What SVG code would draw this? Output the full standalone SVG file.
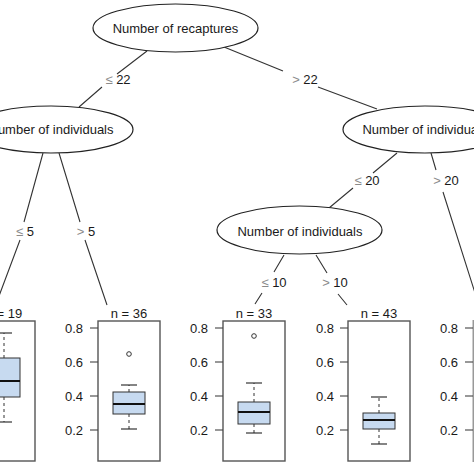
<svg xmlns="http://www.w3.org/2000/svg" width="474" height="474" viewBox="0 0 474 474">
<style>
text{font-family:"Liberation Sans",Arial,sans-serif;font-size:13px;fill:#1a1a1a}
.node ellipse{fill:#fff;stroke:#222;stroke-width:1.2}
.lab{text-anchor:middle}
.sym{fill:#8a8a8a}
.edge{stroke:#333;stroke-width:1.1;fill:none}
.frame{fill:#fff;stroke:#555;stroke-width:1.4}
.tick{stroke:#444;stroke-width:1.1}
.tl{text-anchor:end}
.box{fill:#c7daf0;stroke:#333;stroke-width:1}
.med{stroke:#111;stroke-width:2}
.wh{stroke:#333;stroke-width:1;stroke-dasharray:3,3}
.cap{stroke:#222;stroke-width:1.1}
.out{fill:none;stroke:#333;stroke-width:1}
</style>
<rect width="474" height="474" fill="#fff"/>
<g id="connectors">
<path class="edge" d="M147,51 L117,74 M102,87 L79,107"/>
<path class="edge" d="M224,47 L283,71 M318,87 L377,109"/>
<path class="edge" d="M43,153 L24,222 M20,240 L-1,296"/>
<path class="edge" d="M59,153 L80,222 M85,240 L107,305"/>
<path class="edge" d="M397,153 L373,173 M353,188 L329,208"/>
<path class="edge" d="M431,153 L436,170 M443,192 L476,296"/>
<path class="edge" d="M284,255 L274,272 M262,293 L255,304"/>
<path class="edge" d="M316,255 L327,273 M338,294 L347,305"/>
<text class="lab" x="118" y="84"><tspan class="sym">≤</tspan> 22</text>
<text class="lab" x="305" y="84"><tspan class="sym">&gt;</tspan> 22</text>
<text class="lab" x="25" y="236"><tspan class="sym">≤</tspan> 5</text>
<text class="lab" x="86" y="236"><tspan class="sym">&gt;</tspan> 5</text>
<text class="lab" x="367" y="185"><tspan class="sym">≤</tspan> 20</text>
<text class="lab" x="446" y="185"><tspan class="sym">&gt;</tspan> 20</text>
<text class="lab" x="274" y="287"><tspan class="sym">≤</tspan> 10</text>
<text class="lab" x="335" y="287"><tspan class="sym">&gt;</tspan> 10</text>
</g>
<g id="node1" class="node">
<ellipse cx="175.5" cy="28" rx="82.5" ry="24"/>
<text class="lab" x="175.5" y="33">Number of recaptures</text>
</g>
<g id="node2" class="node">
<ellipse cx="51" cy="129.5" rx="82" ry="23.5"/>
<text class="lab" x="51" y="134">Number of individuals</text>
</g>
<g id="node5" class="node">
<ellipse cx="425" cy="129.5" rx="82" ry="23.5"/>
<text class="lab" x="425" y="134">Number of individuals</text>
</g>
<g id="node6" class="node">
<ellipse cx="299.5" cy="230" rx="82.5" ry="24"/>
<text class="lab" x="300" y="236">Number of individuals</text>
</g>
<g id="node3">
<text class="lab" x="4" y="318">n = 19</text>
<rect class="frame" x="-27" y="321" width="62" height="140"/>
<line class="wh" x1="4" y1="358" x2="4" y2="333"/>
<line class="wh" x1="4" y1="397" x2="4" y2="422"/>
<line class="cap" x1="-4" y1="333" x2="12" y2="333"/>
<line class="cap" x1="-4" y1="422" x2="12" y2="422"/>
<rect class="box" x="-12" y="358" width="32" height="39"/>
<line class="med" x1="-12" y1="381" x2="20" y2="381"/>
</g>
<g id="node4">
<text class="lab" x="129" y="318">n = 36</text>
<rect class="frame" x="98" y="321" width="62" height="140"/>
<g class="tick"><line x1="90" y1="328" x2="98" y2="328"/><line x1="90" y1="362" x2="98" y2="362"/><line x1="90" y1="396" x2="98" y2="396"/><line x1="90" y1="430" x2="98" y2="430"/></g>
<text class="tl" x="83" y="332.5">0.8</text><text class="tl" x="83" y="366.5">0.6</text><text class="tl" x="83" y="400.5">0.4</text><text class="tl" x="83" y="434.5">0.2</text>
<line class="wh" x1="129" y1="392" x2="129" y2="385"/>
<line class="wh" x1="129" y1="414" x2="129" y2="429"/>
<line class="cap" x1="121" y1="385" x2="137" y2="385"/>
<line class="cap" x1="121" y1="429" x2="137" y2="429"/>
<rect class="box" x="113" y="392" width="32" height="22"/>
<line class="med" x1="113" y1="404" x2="145" y2="404"/>
<circle class="out" cx="129" cy="354" r="2.3"/>
</g>
<g id="node7">
<text class="lab" x="254" y="318">n = 33</text>
<rect class="frame" x="223" y="321" width="62" height="140"/>
<g class="tick"><line x1="215" y1="328" x2="223" y2="328"/><line x1="215" y1="362" x2="223" y2="362"/><line x1="215" y1="396" x2="223" y2="396"/><line x1="215" y1="430" x2="223" y2="430"/></g>
<text class="tl" x="208" y="332.5">0.8</text><text class="tl" x="208" y="366.5">0.6</text><text class="tl" x="208" y="400.5">0.4</text><text class="tl" x="208" y="434.5">0.2</text>
<line class="wh" x1="254" y1="402" x2="254" y2="383"/>
<line class="wh" x1="254" y1="424" x2="254" y2="433"/>
<line class="cap" x1="246" y1="383" x2="262" y2="383"/>
<line class="cap" x1="246" y1="433" x2="262" y2="433"/>
<rect class="box" x="238" y="402" width="32" height="22"/>
<line class="med" x1="238" y1="412" x2="270" y2="412"/>
<circle class="out" cx="254" cy="336" r="2.3"/>
</g>
<g id="node8">
<text class="lab" x="379" y="318">n = 43</text>
<rect class="frame" x="348" y="321" width="62" height="140"/>
<g class="tick"><line x1="340" y1="328" x2="348" y2="328"/><line x1="340" y1="362" x2="348" y2="362"/><line x1="340" y1="396" x2="348" y2="396"/><line x1="340" y1="430" x2="348" y2="430"/></g>
<text class="tl" x="334" y="332.5">0.8</text><text class="tl" x="334" y="366.5">0.6</text><text class="tl" x="334" y="400.5">0.4</text><text class="tl" x="334" y="434.5">0.2</text>
<line class="wh" x1="379" y1="413" x2="379" y2="397"/>
<line class="wh" x1="379" y1="429" x2="379" y2="444"/>
<line class="cap" x1="371" y1="397" x2="387" y2="397"/>
<line class="cap" x1="371" y1="444" x2="387" y2="444"/>
<rect class="box" x="363" y="413" width="32" height="16"/>
<line class="med" x1="363" y1="420" x2="395" y2="420"/>
</g>
<g id="node9">
<rect x="472.5" y="320" width="3" height="142" fill="#999"/>
<g class="tick"><line x1="465" y1="328" x2="473" y2="328"/><line x1="465" y1="362" x2="473" y2="362"/><line x1="465" y1="396" x2="473" y2="396"/><line x1="465" y1="430" x2="473" y2="430"/></g>
<text class="tl" x="458" y="332.5">0.8</text><text class="tl" x="458" y="366.5">0.6</text><text class="tl" x="458" y="400.5">0.4</text><text class="tl" x="458" y="434.5">0.2</text>
</g>
</svg>
